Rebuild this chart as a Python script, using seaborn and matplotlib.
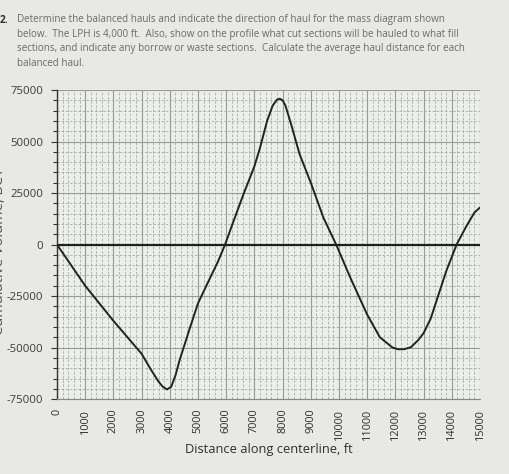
import numpy as np
import matplotlib
matplotlib.use("Agg")
import matplotlib.pyplot as plt
import seaborn as sns
from matplotlib.ticker import MultipleLocator

# Mass diagram (distance in ft, cumulative volume in BCY)
distance = [0, 500, 1000, 1500, 2000, 2500, 3000, 3300, 3600, 3750, 3900,
            4050, 4200, 4350, 4700, 5000, 5400, 5700, 5960, 6250, 6600,
            7000, 7200, 7450, 7650, 7800, 7900, 8000, 8100, 8300, 8600,
            9000, 9450, 9900, 10400, 11000, 11450, 11900, 12100, 12300,
            12550, 12800, 13000, 13250, 13800, 14170, 14500, 14800, 15000]
volume = [0, -10000, -20000, -28500, -37000, -45000, -53000, -60000, -66500,
          -69000, -70300, -69000, -63500, -56000, -41000, -28500, -17000,
          -8500, 0, 11000, 24000, 38000, 47000, 60000, 67500, 70300, 70800,
          70000, 67500, 58500, 44000, 30000, 13000, 0, -16000, -34000,
          -45000, -50000, -50800, -50800, -49800, -46500, -43000, -36000,
          -13000, 0, 8500, 15500, 18000]

x_ticks = list(range(0, 15001, 1000))
y_ticks = [-75000, -50000, -25000, 0, 25000, 50000, 75000]

question = ("Determine the balanced hauls and indicate the direction of haul for the mass diagram shown\n"
            "below.  The LPH is 4,000 ft.  Also, show on the profile what cut sections will be hauled to what fill\n"
            "sections, and indicate any borrow or waste sections.  Calculate the average haul distance for each\n"
            "balanced haul.")

sns.set_theme(style="whitegrid")
plt.rcParams['font.family'] = ['Open Sans', 'DejaVu Sans']

paper = '#e8e9e6'
fig = plt.figure(figsize=(5.09, 4.74), dpi=100, facecolor=paper)
ax = fig.add_axes([0.112, 0.158, 0.831, 0.652])
ax.set_facecolor('#eceeeb')

# grid: solid major lines, dashed minor lines
ax.xaxis.set_minor_locator(MultipleLocator(200))
ax.yaxis.set_minor_locator(MultipleLocator(5000))
ax.grid(which='major', color='#9a9b98', linewidth=0.8, linestyle='-')
ax.grid(which='minor', color='#a9aaa7', linewidth=0.6, linestyle=(0, (3, 2)))
ax.set_axisbelow(True)

ax.axhline(0, color='#1e1e1e', linewidth=1.6, zorder=2)
sns.lineplot(x=distance, y=volume, sort=False, estimator=None,
             color='#222222', linewidth=1.4, ax=ax, zorder=3)

ax.set_xlim(0, 15000)
ax.set_ylim(-75000, 75000)
ax.set_xticks(x_ticks)
ax.set_yticks(y_ticks)
ax.set_xticklabels([str(t) for t in x_ticks], rotation=90, fontsize=7.8, color='#2e2e2e')
ax.set_yticklabels([str(t) for t in y_ticks], fontsize=8.2, color='#3a3a3a')
ax.tick_params(axis='y', which='both', direction='out', left=True, length=3,
               color='#333333', width=0.8)
ax.tick_params(axis='y', which='major', length=4, pad=6)
ax.tick_params(axis='x', which='major', pad=1)

for side in ['top', 'right']:
    ax.spines[side].set_visible(False)
ax.spines['left'].set_color('#333333')
ax.spines['left'].set_linewidth(1.0)
ax.spines['bottom'].set_color('#888888')
ax.spines['bottom'].set_linewidth(0.8)

ax.set_xlabel('Distance along centerline, ft', fontsize=9.3, color='#2e2e2e', labelpad=2)

# y label sits mostly off the left edge of the page photo
fig.text(0.0, 0.47, 'Cumulative Volume, BCY', rotation=90, ha='center', va='center',
         fontsize=10.5, color='#555555')

fig.text(0.0, 0.968, '2.', fontsize=7.3, color='#2e2e2e', va='top', fontweight='bold')
fig.text(0.033, 0.971, question, fontsize=7.1, color='#6a6a6a', va='top',
         linespacing=1.48)

fig.savefig('out.png', dpi=100, facecolor=paper)
